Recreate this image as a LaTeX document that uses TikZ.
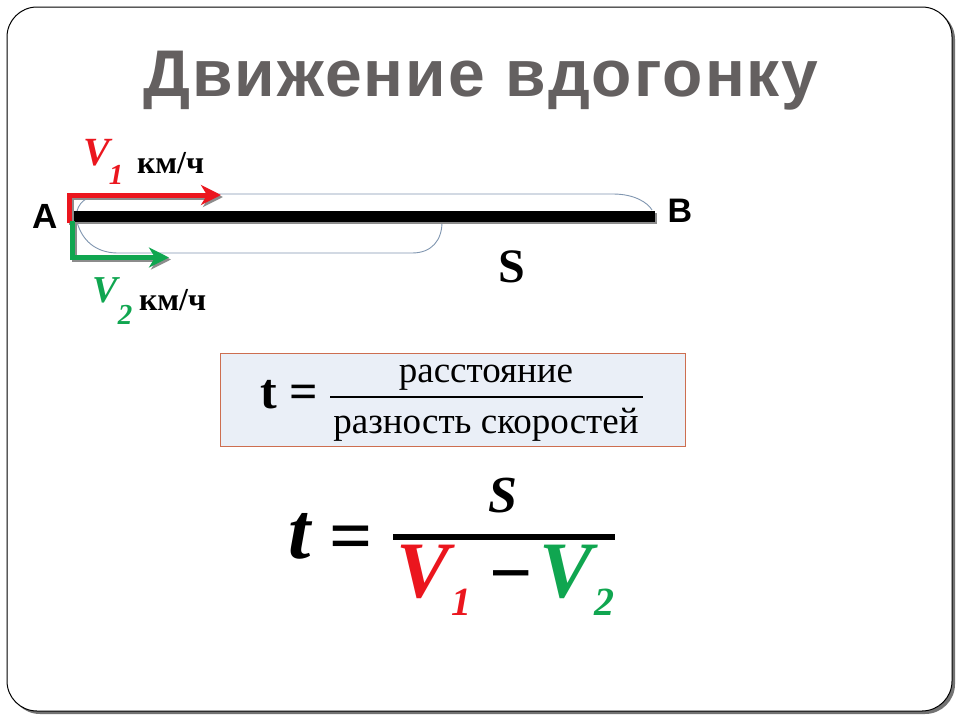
\documentclass[tikz,border=0pt]{standalone}
\usepackage{fontspec}
\setmainfont{Liberation Serif}
\newfontfamily\sansf{Liberation Sans}
\newfontfamily\titlef[LetterSpace=3]{Liberation Sans}
\usetikzlibrary{arrows.meta}
\definecolor{myred}{RGB}{235,22,30}
\definecolor{mygreen}{RGB}{16,166,80}
\definecolor{titlegray}{RGB}{100,96,96}
\definecolor{guideblue}{RGB}{128,150,176}
\definecolor{boxfill}{RGB}{234,239,247}
\definecolor{boxedge}{RGB}{205,110,80}
\newcommand{\fsz}[1]{\fontsize{#1}{#1}\selectfont}
\begin{document}
\begin{tikzpicture}[x=1pt,y=-1pt,
  txt/.style={inner sep=0pt, outer sep=0pt},
  guide/.style={draw=guideblue, line width=0.9pt},
  vecarrow/.style={line width=5pt, -{Stealth[length=20pt,width=20pt,inset=6pt]}},
  shadowline/.style={draw=black!45},
  serifb/.style={font=\bfseries\fsz{#1}},
  serifbi/.style={font=\bfseries\itshape\fsz{#1}}]
\useasboundingbox (0,0) rectangle (960,720);
\fill[white] (0,0) rectangle (960,720);
% frame
\fill[black!55, rounded corners=30pt] (10,9.5) rectangle (955,714);
\filldraw[fill=white, draw=black, line width=1pt, rounded corners=30pt] (7,7) rectangle (952,711);
% title
\node[txt, font=\titlef\bfseries\fsz{66}, text=titlegray, anchor=base] (title) at (481,96) {Движение вдогонку};
% coordinates
\coordinate (bl) at (67,216);
\coordinate (br) at (655,216);
\coordinate (rc) at (69.5,223);
\coordinate (rk) at (69.5,195);
\coordinate (rt) at (221,195);
\coordinate (gc) at (72,221);
\coordinate (gk) at (72,257.5);
\coordinate (gt) at (169,257.5);
% guide curves
\draw[guide] (77,211) .. controls (80,200) and (90,194.5) .. (107,194) -- (613,194) .. controls (635,194) and (648,203) .. (652,210);
\draw[guide] (77,222) .. controls (82,240) and (95,252.5) .. (117,253) -- (412,253) .. controls (432,253) and (442,240) .. (442,222);
% bar
\draw[black!45, line width=11pt] ([shift={(1.5,2)}]bl) -- ([shift={(1.5,2)}]br);
\draw[black, line width=11pt] (bl) -- (br);
% arrows
\draw[vecarrow, shadowline] ([shift={(2,2)}]rc) -- ([shift={(2,2)}]rk) -- ([shift={(2,2)}]rt);
\draw[vecarrow, draw=myred] (rc) -- (rk) -- (rt);
\draw[vecarrow, shadowline] ([shift={(2,2)}]gc) -- ([shift={(2,2)}]gk) -- ([shift={(2,2)}]gt);
\draw[vecarrow, draw=mygreen] (gc) -- (gk) -- (gt);
% labels A, B, S
\node[txt, font=\sansf\bfseries\fsz{35}, anchor=base] (A) at (45,228) {A};
\node[txt, font=\sansf\bfseries\fsz{34}, anchor=base] (B) at (680,222) {B};
\node[txt, serifb=48, anchor=base] (S) at (512,282) {S};
% V1 label
\node[txt, serifbi=40, text=myred, anchor=base] (v1) at (97,165) {V};
\node[txt, serifbi=29, text=myred, anchor=base] (v1s) at (116,184) {1};
\node[txt, serifb=32, anchor=base west] (u1) at (137,173) {км/ч};
% V2 label
\node[txt, serifbi=38, text=mygreen, anchor=base] (v2) at (105,302) {V};
\node[txt, serifbi=29, text=mygreen, anchor=base] (v2s) at (125,324) {2};
\node[txt, serifb=32, anchor=base west] (u2) at (139,310) {км/ч};
% formula box
\draw[fill=boxfill, draw=boxedge, line width=1pt] (220,353) rectangle (685,446);
\node[txt, serifb=50, anchor=base] (teq) at (289,408) {t =};
\node[txt, font=\fsz{37}, anchor=base] (num) at (486,382) {расстояние};
\node[txt, font=\fsz{37}, anchor=base] (den) at (486,433) {разность скоростей};
\draw[line width=2.5pt] (330,397) -- (643,397);
% big formula
\node[txt, serifbi=80, anchor=base] (bt) at (300,558) {t};
\node[txt, serifb=76, anchor=center] (beq) at (351,544) {=};
\draw[line width=6pt] (393,537) -- (615,537);
\node[txt, serifbi=52, anchor=base] (bs) at (503,512) {S};
\node[txt, serifbi=80, text=myred, anchor=base] (bv1) at (423,597) {V};
\node[txt, serifbi=40, text=myred, anchor=base] (bv1s) at (461,615) {1};
\node[txt, serifb=76, anchor=center] (bminus) at (511,585) {−};
\node[txt, serifbi=80, text=mygreen, anchor=base] (bv2) at (566,597) {V};
\node[txt, serifbi=40, text=mygreen, anchor=base] (bv2s) at (604,615) {2};
\end{tikzpicture}
\end{document}
